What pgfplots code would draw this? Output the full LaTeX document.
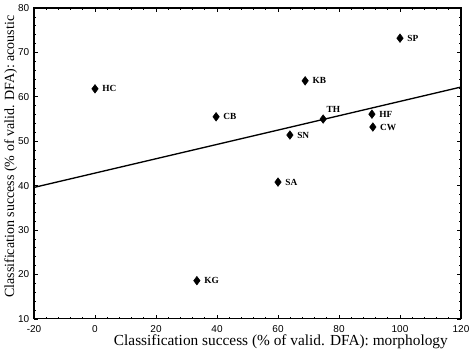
\documentclass[border=0pt]{standalone}
\usepackage{fontspec}
\setmainfont{Liberation Serif}
\newfontfamily\ticksans{Liberation Sans}
\usepackage{pgfplots}
\pgfplotsset{compat=1.18}
\begin{document}
\begin{tikzpicture}
\begin{axis}[
  name=ax,
  scale only axis,
  width=320pt, height=233pt,
  xmin=-20, xmax=120, ymin=10, ymax=80,
  xtick={-20,0,...,120}, ytick={10,20,...,80},
  minor x tick num=4, minor y tick num=4,
  tick align=inside,
  major tick length=3pt, minor tick length=1.5pt,
  axis line style={line width=0.9pt},
  every tick/.style={black, line width=0.5pt},
  tick label style={font=\ticksans\fontsize{7.5}{8}\selectfont},
  /pgf/number format/assume math mode=true,
  xticklabel style={yshift=-1.5pt},
  yticklabel style={xshift=0pt},
  xlabel={Classification success (\% of valid. DFA): morphology},
  ylabel={Classification success (\% of valid. DFA): acoustic},
  xlabel style={font=\fontsize{11.5}{12}\selectfont, yshift=5pt, xshift=25pt},
  ylabel style={font=\fontsize{10.5}{12}\selectfont, yshift=-6pt, xshift=5pt},
  clip=false,
]
\addplot[black, line width=1pt, no marks] coordinates {(-20,39.6) (120,62.2)};
\addplot[only marks, mark=diamond*, mark size=3.2pt, black,
  point meta=explicit symbolic,
  nodes near coords,
  nodes near coords style={anchor=west, xshift=2pt, font=\bfseries\fontsize{7}{8}\selectfont}]
  coordinates {
    (0,61.8) [HC]
    (39.7,55.5) [CB]
    (68.9,63.6) [KB]
    (100,73.2) [SP]
    (63.9,51.4) [SN]
    (90.8,56.1) [HF]
    (91.1,53.2) [CW]
    (60,40.8) [SA]
    (33.4,18.6) [KG]
  };
\addplot[only marks, mark=diamond*, mark size=3.2pt, black,
  point meta=explicit symbolic,
  nodes near coords,
  nodes near coords style={anchor=south west, xshift=-1pt, yshift=1pt, font=\bfseries\fontsize{7}{8}\selectfont}]
  coordinates {
    (74.8,55.0) [TH]
  };
\end{axis}
\pgfresetboundingbox
\path ([xshift=-25.5pt,yshift=-27pt]ax.south west) rectangle ([xshift=9.75pt,yshift=6pt]ax.north east);
\end{tikzpicture}
\end{document}
